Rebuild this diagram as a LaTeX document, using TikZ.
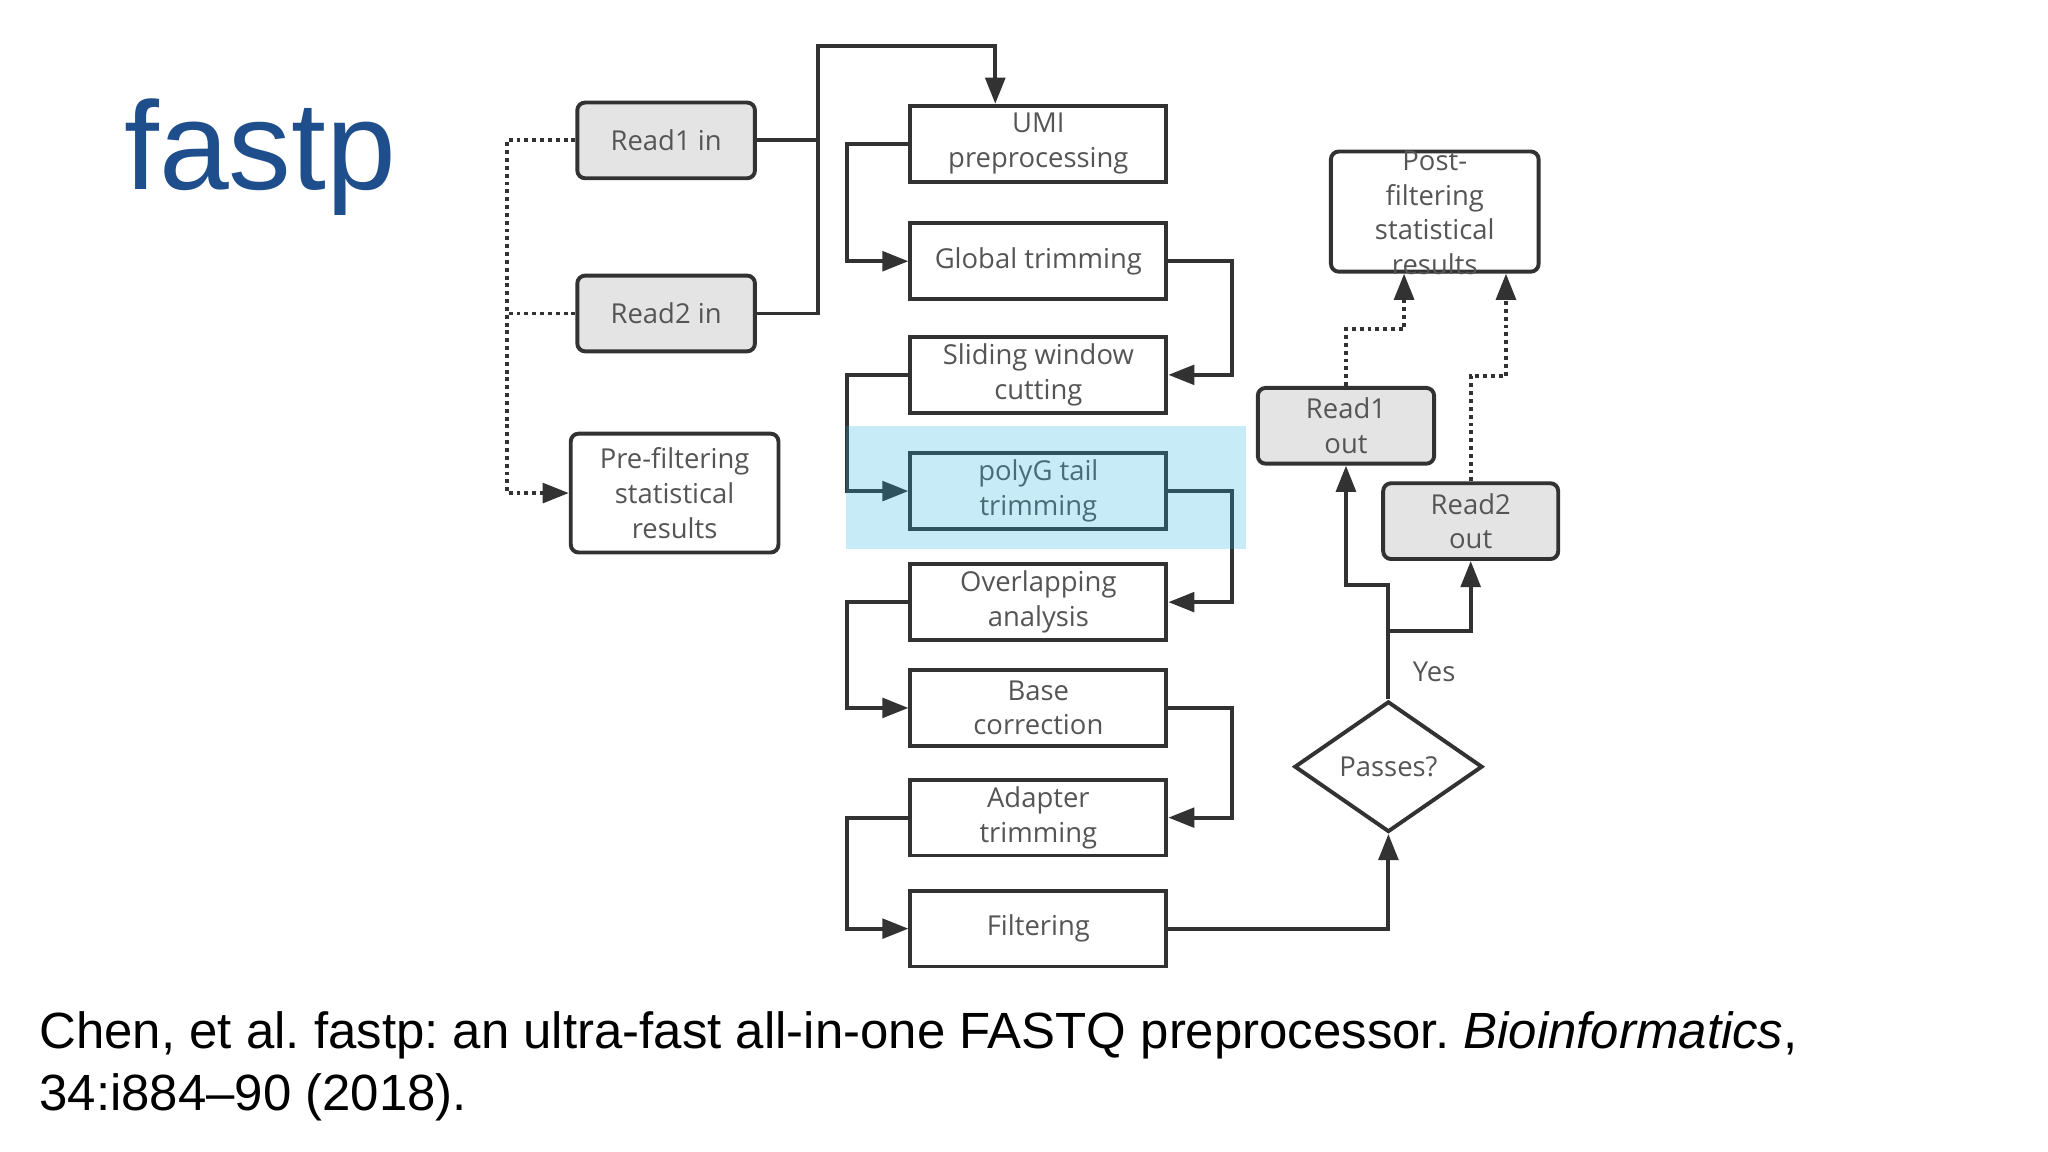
\documentclass[tikz,border=0pt]{standalone}
\usepackage{fontspec}
\setmainfont{Liberation Sans}
\newfontfamily\diagfont{Open Sans}
\usetikzlibrary{arrows.meta,shapes.geometric,calc}
\frenchspacing
\definecolor{titleblue}{RGB}{31,78,140}
\definecolor{boxline}{RGB}{50,50,50}
\definecolor{boxgray}{RGB}{228,228,228}
\definecolor{txtgray}{RGB}{85,85,85}
\definecolor{hl}{RGB}{35,179,227}
\tikzset{
  base/.style={draw=boxline, line width=3pt, inner sep=0pt, align=center, text=txtgray,
    font=\diagfont\fontsize{21}{26.5}\selectfont},
  procbox/.style={base, rectangle, minimum width=196pt, minimum height=58pt},
  iobox/.style={base, rectangle, rounded corners=6pt, fill=boxgray, minimum width=136pt, minimum height=58pt},
  statbox/.style={base, rectangle, rounded corners=6pt, fill=white, minimum width=159pt, minimum height=91pt},
  decision/.style={base, diamond, minimum width=144pt, minimum height=100pt},
  conn/.style={draw=boxline, line width=3pt, -{Triangle[length=20pt,width=15pt]}},
  plain/.style={draw=boxline, line width=3pt},
  dotconn/.style={draw=boxline, line width=3pt, dash pattern=on 3pt off 3pt, -{Triangle[length=20pt,width=15pt]}},
  dotplain/.style={draw=boxline, line width=3pt, dash pattern=on 3pt off 3pt},
  lbl/.style={text=txtgray, font=\diagfont\fontsize{21}{26.5}\selectfont, inner sep=0pt, align=center}
}
\begin{document}
\begin{tikzpicture}[x=1pt,y=-1pt]
\useasboundingbox (0,0) rectangle (1568,882);
\fill[white] (0,0) rectangle (1568,882);

% title
\node[anchor=base west, inner sep=0pt, text=titleblue, font=\fontsize{96}{96}\selectfont] (title) at (95,145) {fastp};

% citation
\node[anchor=base west, inner sep=0pt, font=\fontsize{39}{47}\selectfont] (cite1) at (30,803) {Chen, et al. fastp: an ultra-fast all-in-one FASTQ preprocessor. \textit{Bioinformatics},};
\node[anchor=base west, inner sep=0pt, font=\fontsize{39}{47}\selectfont] (cite2) at (30,850) {34:i884--90 (2018).};

% input boxes
\node[iobox] (r1in) at (510,107.5) {Read1 in};
\node[iobox] (r2in) at (510,240) {Read2 in};
\node[statbox] (pre) at (516.5,377.5) {Pre-filtering\\statistical\\results};

% processing chain
\node[procbox] (umi) at (795,110) {UMI\\preprocessing};
\node[procbox] (glob) at (795,200) {Global trimming};
\node[procbox] (slide) at (795,287) {Sliding window\\cutting};
\node[procbox] (polyg) at (795,376) {polyG tail\\trimming};
\node[procbox] (overl) at (795,461) {Overlapping\\analysis};
\node[procbox] (basec) at (795,542) {Base\\correction};
\node[procbox] (adapt) at (795,626) {Adapter\\trimming};
\node[procbox] (filt) at (795,711) {Filtering};

% decision and outputs
\node[decision] (pass) at (1063,587) {Passes?};
\node[iobox, minimum width=135pt] (r1out) at (1030.5,326) {Read1\\out};
\node[iobox, minimum width=134pt] (r2out) at (1126,399) {Read2\\out};
\node[statbox, minimum height=92pt] (post) at (1098.5,162) {};
\node[lbl] (posttxt) at (1098.5,163) {Post-\\filtering\\statistical\\results};
\node[lbl] (yes) at (1098,514) {Yes};

% bend coordinates
\coordinate (t0) at (626,240);
\coordinate (t1) at (626,35);
\coordinate (t2) at (762,35);
\coordinate (y0) at (1063,483);
\coordinate (y1) at (1063,448);
\coordinate (p0) at (388,107.5);
\coordinate (p1) at (388,240);
\coordinate (d1) at (1075,252);
\coordinate (d2) at (1153,288);

% input to UMI
\draw[plain] (r1in.east) -- (r1in.east -| t0);
\draw[conn] (r2in.east) -- (t0) -- (t1) -- (t2) -- (t2 |- umi.north);

% chain
\draw[conn] (umi.west) -- ++(-47,0) |- (glob.west);
\draw[conn] (glob.east) -- ++(49,0) |- (slide.east);
\draw[conn] (slide.west) -- ++(-47,0) |- (polyg.west);
\draw[conn] (polyg.east) -- ++(49,0) |- (overl.east);
\draw[conn] (overl.west) -- ++(-47,0) |- (basec.west);
\draw[conn] (basec.east) -- ++(49,0) |- (adapt.east);
\draw[conn] (adapt.west) -- ++(-47,0) |- (filt.west);
\draw[conn] (filt.east) -| (pass.south);

% outputs
\draw[conn] (pass.north) -- (y0) -| (r2out.south);
\draw[conn] (y0) -- (y1) -| (r1out.south);

% dotted statistics
\draw[dotplain] (r2in.west) -- (p1);
\draw[dotconn] (r1in.west) -- (p0) |- (pre.west);
\draw[dotconn] (r1out.north) |- (d1) -- (d1 |- post.south);
\draw[dotconn] (r2out.north) |- (d2) -- (d2 |- post.south);

% highlight
\fill[hl, fill opacity=0.25] (648,326) rectangle (954,420);
\end{tikzpicture}
\end{document}
